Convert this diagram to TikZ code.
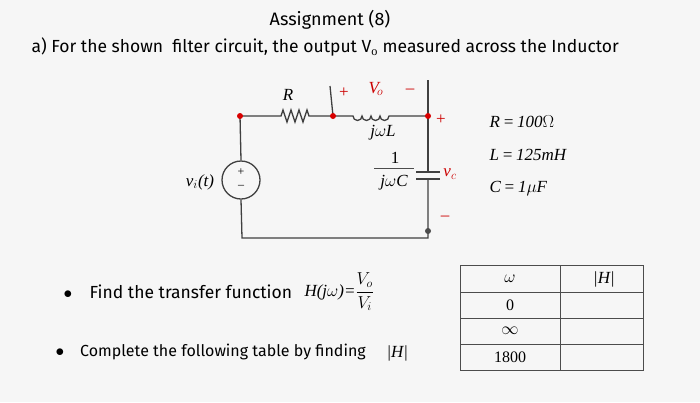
\documentclass[tikz,border=0pt]{standalone}
\usepackage{fontspec}
\setmainfont{Liberation Serif}
\newfontfamily\txt{Fira Sans}
\begin{document}
\begin{tikzpicture}[x=1pt,y=-1pt,
  wire/.style={draw=black!75,line width=1.3pt},
  rdot/.style={circle,fill=red!85!black,inner sep=0pt,minimum size=6pt},
  rtxt/.style={text=red!80!black,font=\itshape\fontsize{17}{17}\selectfont},
  mtxt/.style={font=\itshape\fontsize{17}{17}\selectfont},
  body/.style={font=\txt\fontsize{17.5}{19}\selectfont,anchor=west},
  tab/.style={draw=black!70,line width=1pt}]
\fill[white!93!gray] (0,0) rectangle (700,402);
\useasboundingbox (0,0) rectangle (700,402);
\node[font=\txt\fontsize{18}{20}\selectfont] (title) at (330,20) {Assignment (8)};
\node[body] (a) at (28,47) {a) For the shown\ \ filter circuit, the output V$_{\mathrm o}$ measured across the Inductor};
% circuit
\coordinate (n1) at (240,116);
\coordinate (n2) at (333,116);
\coordinate (n3) at (428,116);
\coordinate (b1) at (242,238);
\coordinate (b2) at (428,238);
\node[circle,draw=black!75,line width=1.3pt,minimum size=38pt,inner sep=0pt] (src) at (241,180) {};
\node[font=\fontsize{12}{12}\selectfont] at (241,172) {+};
\node[font=\fontsize{12}{12}\selectfont] at (241,187) {--};
\draw[wire] (n1) -- (281,116) -- (283,110) -- (287,122) -- (291,110) -- (295,122) -- (299,110) -- (303,122) -- (307,110) -- (309,116) -- (n2);
\draw[wire] (n2) -- (353,116) arc(180:0:4.5) arc(180:0:4.5) arc(180:0:4.5) arc(180:0:4.5) -- (n3);
\draw[wire] (330,86) -- (n2);
\draw[wire] (428,80) -- (n3) -- (428,172);
\draw[wire] (416,172) -- (440,172);
\draw[wire] (416,179) -- (440,179);
\draw[wire] (428,179) -- (b2) -- (b1) -- (src.south);
\draw[wire] (src.north) -- (n1);
\node[rdot] at (n1) {};
\node[rdot] at (n2) {};
\node[rdot] at (n3) {};
\node[circle,fill=black!70,inner sep=0pt,minimum size=6pt] at (428,231) {};
\node[mtxt] at (288,95) {R};
\node[rtxt] at (344,93) {\upshape +};
\node[rtxt] at (376,89) {V$_{\!o}$};
\node[rtxt] at (410,91) {\upshape --};
\node[rtxt] at (441,120) {\upshape +};
\node[rtxt] at (450,174) {v$_{c}$};
\node[rtxt] at (445,218) {\upshape --};
\node[mtxt] at (383,133) {j$\omega$L};
\node[mtxt] at (395,158) {\upshape 1};
\draw[black!70,line width=0.8pt] (374,168) -- (414,168);
\node[mtxt] at (394,183) {j$\omega$C};
\node[mtxt] at (200,182) {v$_{i}$(t)};
\node[mtxt,anchor=west] at (486,122) {R\,=\,100$\Omega$};
\node[mtxt,anchor=west] at (486,155) {L\,=\,125mH};
\node[mtxt,anchor=west] at (486,189) {C\,=\,1$\mu$F};
% text
\node[body] (b) at (60,292) {$\bullet$\quad Find the transfer function};
\node[mtxt,anchor=west] at (301,292) {H(j$\omega$)=$\displaystyle\frac{V_o}{V_i}$};
\node[body,font=\txt\fontsize{16}{18}\selectfont] (c) at (52,352) {$\bullet$\quad Complete the following table by finding};
\node[mtxt,anchor=west] at (383,353) {|H|};
% table
\draw[tab] (460,265) rectangle (643,370);
\draw[tab] (560,265) -- (560,370);
\draw[tab] (460,292) -- (643,292);
\draw[tab] (460,318) -- (643,318);
\draw[tab] (460,344) -- (643,344);
\node[mtxt] at (510,279) {$\omega$};
\node[mtxt] at (604,279) {|H|};
\node[font=\fontsize{16}{16}\selectfont] at (510,305) {0};
\node[font=\fontsize{16}{16}\selectfont] at (510,331) {$\infty$};
\node[font=\fontsize{16}{16}\selectfont] at (510,357) {1800};
\end{tikzpicture}
\end{document}
